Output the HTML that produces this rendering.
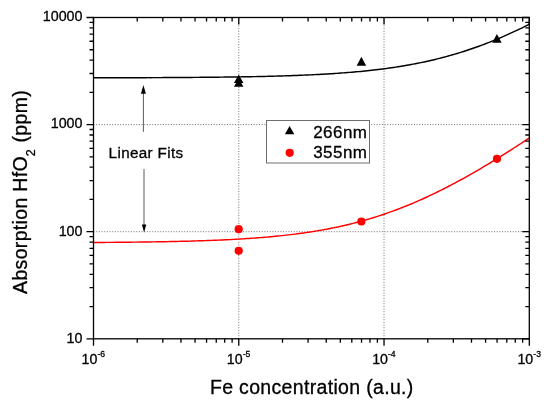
<!DOCTYPE html><html><head><meta charset="utf-8"><style>html,body{margin:0;padding:0;background:#fff;}svg{display:block;}text{font-family:"Liberation Sans",Arial,sans-serif;stroke:#000;stroke-width:0.3px;}</style></head><body>
<svg width="550" height="412" viewBox="0 0 550 412">
<rect width="550" height="412" fill="#fff"/>
<line x1="238.77" y1="17.5" x2="238.77" y2="338.8" stroke="#707070" stroke-width="1" stroke-dasharray="1 1.67"/>
<line x1="384.03" y1="17.5" x2="384.03" y2="338.8" stroke="#707070" stroke-width="1" stroke-dasharray="1 1.67"/>
<line x1="93.5" y1="124.6" x2="529.3" y2="124.6" stroke="#707070" stroke-width="1" stroke-dasharray="1 1.67"/>
<line x1="93.5" y1="231.7" x2="529.3" y2="231.7" stroke="#707070" stroke-width="1" stroke-dasharray="1 1.67"/>
<polyline points="93.5,77.79 95.69,77.79 97.88,77.79 100.07,77.78 102.26,77.78 104.45,77.77 106.64,77.77 108.83,77.77 111.02,77.76 113.21,77.76 115.4,77.75 117.59,77.75 119.78,77.74 121.97,77.74 124.16,77.73 126.35,77.72 128.54,77.72 130.73,77.71 132.92,77.71 135.11,77.7 137.3,77.69 139.49,77.69 141.68,77.68 143.87,77.67 146.06,77.66 148.25,77.65 150.44,77.65 152.63,77.64 154.82,77.63 157.01,77.62 159.2,77.61 161.39,77.6 163.58,77.59 165.77,77.58 167.96,77.57 170.15,77.56 172.34,77.54 174.53,77.53 176.72,77.52 178.91,77.51 181.1,77.49 183.29,77.48 185.48,77.46 187.67,77.45 189.86,77.43 192.05,77.42 194.24,77.4 196.43,77.38 198.62,77.36 200.81,77.34 203,77.33 205.19,77.31 207.38,77.28 209.57,77.26 211.76,77.24 213.95,77.22 216.14,77.19 218.33,77.17 220.52,77.15 222.71,77.12 224.9,77.09 227.09,77.06 229.28,77.03 231.47,77 233.66,76.97 235.85,76.94 238.04,76.91 240.23,76.87 242.42,76.84 244.61,76.8 246.8,76.76 248.99,76.72 251.18,76.68 253.37,76.64 255.56,76.6 257.75,76.55 259.94,76.5 262.13,76.46 264.32,76.41 266.51,76.35 268.7,76.3 270.89,76.25 273.08,76.19 275.27,76.13 277.46,76.07 279.65,76.01 281.84,75.94 284.03,75.87 286.22,75.8 288.41,75.73 290.6,75.66 292.79,75.58 294.98,75.5 297.17,75.42 299.36,75.33 301.55,75.24 303.74,75.15 305.93,75.06 308.12,74.96 310.31,74.86 312.49,74.76 314.68,74.65 316.87,74.54 319.06,74.43 321.25,74.31 323.44,74.19 325.63,74.06 327.82,73.93 330.01,73.8 332.2,73.66 334.39,73.52 336.58,73.37 338.77,73.22 340.96,73.06 343.15,72.9 345.34,72.73 347.53,72.56 349.72,72.38 351.91,72.2 354.1,72.01 356.29,71.82 358.48,71.61 360.67,71.41 362.86,71.19 365.05,70.97 367.24,70.75 369.43,70.51 371.62,70.27 373.81,70.03 376,69.77 378.19,69.51 380.38,69.24 382.57,68.96 384.76,68.67 386.95,68.38 389.14,68.08 391.33,67.77 393.52,67.44 395.71,67.12 397.9,66.78 400.09,66.43 402.28,66.07 404.47,65.7 406.66,65.33 408.85,64.94 411.04,64.54 413.23,64.13 415.42,63.71 417.61,63.29 419.8,62.84 421.99,62.39 424.18,61.93 426.37,61.45 428.56,60.97 430.75,60.47 432.94,59.96 435.13,59.44 437.32,58.9 439.51,58.35 441.7,57.79 443.89,57.22 446.08,56.63 448.27,56.04 450.46,55.42 452.65,54.8 454.84,54.16 457.03,53.51 459.22,52.84 461.41,52.16 463.6,51.47 465.79,50.76 467.98,50.04 470.17,49.31 472.36,48.56 474.55,47.8 476.74,47.02 478.93,46.23 481.12,45.43 483.31,44.61 485.5,43.78 487.69,42.93 489.88,42.07 492.07,41.2 494.26,40.31 496.45,39.41 498.64,38.49 500.83,37.56 503.02,36.62 505.21,35.66 507.4,34.69 509.59,33.71 511.78,32.71 513.97,31.7 516.16,30.68 518.35,29.64 520.54,28.59 522.73,27.53 524.92,26.46 527.11,25.37 529.3,24.27" fill="none" stroke="#000" stroke-width="1.45" stroke-linejoin="round"/>
<polyline points="93.5,242.49 95.69,242.48 97.88,242.47 100.07,242.45 102.26,242.44 104.45,242.42 106.64,242.4 108.83,242.39 111.02,242.37 113.21,242.35 115.4,242.33 117.59,242.31 119.78,242.29 121.97,242.27 124.16,242.25 126.35,242.23 128.54,242.2 130.73,242.18 132.92,242.15 135.11,242.13 137.3,242.1 139.49,242.07 141.68,242.05 143.87,242.02 146.06,241.99 148.25,241.95 150.44,241.92 152.63,241.89 154.82,241.85 157.01,241.82 159.2,241.78 161.39,241.74 163.58,241.7 165.77,241.66 167.96,241.62 170.15,241.57 172.34,241.53 174.53,241.48 176.72,241.43 178.91,241.38 181.1,241.33 183.29,241.27 185.48,241.22 187.67,241.16 189.86,241.1 192.05,241.03 194.24,240.97 196.43,240.9 198.62,240.84 200.81,240.76 203,240.69 205.19,240.62 207.38,240.54 209.57,240.46 211.76,240.37 213.95,240.29 216.14,240.2 218.33,240.1 220.52,240.01 222.71,239.91 224.9,239.81 227.09,239.7 229.28,239.6 231.47,239.48 233.66,239.37 235.85,239.25 238.04,239.12 240.23,239 242.42,238.86 244.61,238.73 246.8,238.59 248.99,238.44 251.18,238.29 253.37,238.14 255.56,237.98 257.75,237.82 259.94,237.65 262.13,237.47 264.32,237.29 266.51,237.11 268.7,236.91 270.89,236.72 273.08,236.51 275.27,236.3 277.46,236.09 279.65,235.86 281.84,235.63 284.03,235.4 286.22,235.15 288.41,234.9 290.6,234.64 292.79,234.38 294.98,234.1 297.17,233.82 299.36,233.53 301.55,233.23 303.74,232.93 305.93,232.61 308.12,232.28 310.31,231.95 312.49,231.61 314.68,231.26 316.87,230.89 319.06,230.52 321.25,230.14 323.44,229.75 325.63,229.34 327.82,228.93 330.01,228.51 332.2,228.07 334.39,227.63 336.58,227.17 338.77,226.7 340.96,226.22 343.15,225.73 345.34,225.22 347.53,224.71 349.72,224.18 351.91,223.64 354.1,223.08 356.29,222.52 358.48,221.94 360.67,221.35 362.86,220.74 365.05,220.12 367.24,219.49 369.43,218.85 371.62,218.19 373.81,217.52 376,216.83 378.19,216.13 380.38,215.42 382.57,214.69 384.76,213.95 386.95,213.19 389.14,212.43 391.33,211.64 393.52,210.85 395.71,210.04 397.9,209.21 400.09,208.37 402.28,207.52 404.47,206.65 406.66,205.77 408.85,204.88 411.04,203.97 413.23,203.05 415.42,202.11 417.61,201.16 419.8,200.2 421.99,199.22 424.18,198.23 426.37,197.23 428.56,196.21 430.75,195.18 432.94,194.14 435.13,193.09 437.32,192.02 439.51,190.94 441.7,189.85 443.89,188.74 446.08,187.63 448.27,186.5 450.46,185.36 452.65,184.21 454.84,183.04 457.03,181.87 459.22,180.68 461.41,179.49 463.6,178.28 465.79,177.06 467.98,175.84 470.17,174.6 472.36,173.35 474.55,172.09 476.74,170.83 478.93,169.55 481.12,168.26 483.31,166.97 485.5,165.67 487.69,164.35 489.88,163.03 492.07,161.71 494.26,160.37 496.45,159.02 498.64,157.67 500.83,156.31 503.02,154.94 505.21,153.57 507.4,152.19 509.59,150.8 511.78,149.41 513.97,148 516.16,146.6 518.35,145.18 520.54,143.76 522.73,142.34 524.92,140.9 527.11,139.47 529.3,138.03" fill="none" stroke="#ff0000" stroke-width="1.45" stroke-linejoin="round"/>
<polygon points="238.7,74.6 233.95,83 243.45,83" fill="#000"/>
<polygon points="238.7,78.4 233.95,86.8 243.45,86.8" fill="#000"/>
<polygon points="361.4,56.7 356.65,65.8 366.15,65.8" fill="#000"/>
<polygon points="496.9,33.9 492.15,42.7 501.65,42.7" fill="#000"/>
<circle cx="238.7" cy="229.2" r="4.1" fill="#ff0000"/>
<circle cx="238.7" cy="250.8" r="4.1" fill="#ff0000"/>
<circle cx="361.4" cy="221.5" r="4.1" fill="#ff0000"/>
<circle cx="497" cy="158.8" r="4.1" fill="#ff0000"/>
<rect x="266.5" y="120.5" width="103" height="42.5" fill="#fff" stroke="#6e6e6e" stroke-width="1"/>
<polygon points="289.6,125.9 284.85,134.3 294.35,134.3" fill="#000"/>
<circle cx="289.7" cy="152.8" r="4.1" fill="#ff0000"/>
<text x="313.2" y="137.8" font-size="17" letter-spacing="0.45" fill="#000">266nm</text>
<text x="313.2" y="158.4" font-size="17" letter-spacing="0.45" fill="#000">355nm</text>
<text x="108.6" y="158.3" font-size="15.2" letter-spacing="0.36" fill="#000">Linear Fits</text>
<line x1="143.4" y1="92" x2="143.4" y2="131.8" stroke="#000" stroke-width="0.65"/>
<polygon points="143.4,84.9 140.9,93.7 145.9,93.7" fill="#000"/>
<line x1="144" y1="169.1" x2="144" y2="226" stroke="#000" stroke-width="0.65"/>
<polygon points="144.1,232.6 141.9,224.6 146.3,224.6" fill="#000"/>
<rect x="93.5" y="17.5" width="435.8" height="321.3" fill="none" stroke="#000" stroke-width="1.3"/>
<path d="M93.5 338.8v7M93.5 17.5v7M137.23 338.8v4M137.23 17.5v4M162.81 338.8v4M162.81 17.5v4M180.96 338.8v4M180.96 17.5v4M195.04 338.8v4M195.04 17.5v4M206.54 338.8v4M206.54 17.5v4M216.26 338.8v4M216.26 17.5v4M224.69 338.8v4M224.69 17.5v4M232.12 338.8v4M232.12 17.5v4M238.77 338.8v7M238.77 17.5v7M282.5 338.8v4M282.5 17.5v4M308.08 338.8v4M308.08 17.5v4M326.23 338.8v4M326.23 17.5v4M340.3 338.8v4M340.3 17.5v4M351.81 338.8v4M351.81 17.5v4M361.53 338.8v4M361.53 17.5v4M369.96 338.8v4M369.96 17.5v4M377.39 338.8v4M377.39 17.5v4M384.03 338.8v7M384.03 17.5v7M427.76 338.8v4M427.76 17.5v4M453.34 338.8v4M453.34 17.5v4M471.49 338.8v4M471.49 17.5v4M485.57 338.8v4M485.57 17.5v4M497.07 338.8v4M497.07 17.5v4M506.8 338.8v4M506.8 17.5v4M515.22 338.8v4M515.22 17.5v4M522.65 338.8v4M522.65 17.5v4M529.3 338.8v7M529.3 17.5v7M93.5 338.8h-7M529.3 338.8h-7M93.5 306.56h-4M529.3 306.56h-4M93.5 287.7h-4M529.3 287.7h-4M93.5 274.32h-4M529.3 274.32h-4M93.5 263.94h-4M529.3 263.94h-4M93.5 255.46h-4M529.3 255.46h-4M93.5 248.29h-4M529.3 248.29h-4M93.5 242.08h-4M529.3 242.08h-4M93.5 236.6h-4M529.3 236.6h-4M93.5 231.7h-7M529.3 231.7h-7M93.5 199.46h-4M529.3 199.46h-4M93.5 180.6h-4M529.3 180.6h-4M93.5 167.22h-4M529.3 167.22h-4M93.5 156.84h-4M529.3 156.84h-4M93.5 148.36h-4M529.3 148.36h-4M93.5 141.19h-4M529.3 141.19h-4M93.5 134.98h-4M529.3 134.98h-4M93.5 129.5h-4M529.3 129.5h-4M93.5 124.6h-7M529.3 124.6h-7M93.5 92.36h-4M529.3 92.36h-4M93.5 73.5h-4M529.3 73.5h-4M93.5 60.12h-4M529.3 60.12h-4M93.5 49.74h-4M529.3 49.74h-4M93.5 41.26h-4M529.3 41.26h-4M93.5 34.09h-4M529.3 34.09h-4M93.5 27.88h-4M529.3 27.88h-4M93.5 22.4h-4M529.3 22.4h-4M93.5 17.5h-7M529.3 17.5h-7" stroke="#000" stroke-width="1.3" fill="none"/>
<text x="82.5" y="21.3" font-size="14.3" text-anchor="end" fill="#000">10000</text>
<text x="82.5" y="128.4" font-size="14.3" text-anchor="end" fill="#000">1000</text>
<text x="82.5" y="235.5" font-size="14.3" text-anchor="end" fill="#000">100</text>
<text x="82.5" y="342.6" font-size="14.3" text-anchor="end" fill="#000">10</text>
<text x="81.6" y="363.6" font-size="14.2" fill="#000">10<tspan dx="0.1" dy="-6.9" font-size="8.6">-6</tspan></text>
<text x="226.87" y="363.6" font-size="14.2" fill="#000">10<tspan dx="0.1" dy="-6.9" font-size="8.6">-5</tspan></text>
<text x="372.13" y="363.6" font-size="14.2" fill="#000">10<tspan dx="0.1" dy="-6.9" font-size="8.6">-4</tspan></text>
<text x="517.4" y="363.6" font-size="14.2" fill="#000">10<tspan dx="0.1" dy="-6.9" font-size="8.6">-3</tspan></text>
<text x="209.9" y="394" font-size="19.5" letter-spacing="0.33" fill="#000">Fe concentration (a.u.)</text>
<text transform="translate(27.1,293.9) rotate(-90)" font-size="19.5" letter-spacing="0.33" fill="#000">Absorption HfO<tspan font-size="12.5" dy="8.3" dx="-0.2">2</tspan><tspan dy="-8.3" dx="0.6"> (ppm)</tspan></text>
</svg></body></html>
